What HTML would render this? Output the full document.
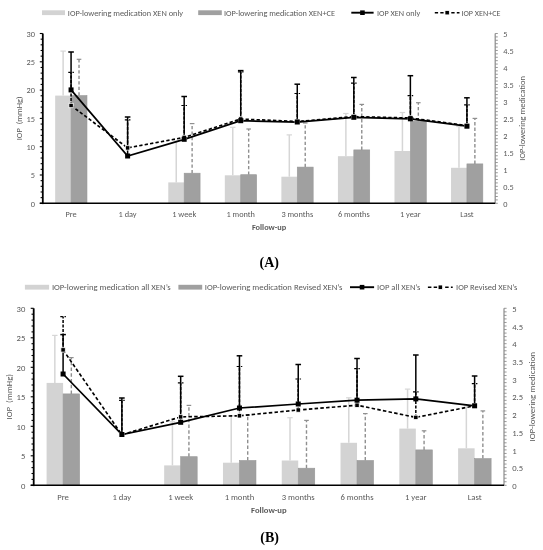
<!DOCTYPE html>
<html><head><meta charset="utf-8"><title>IOP follow-up charts</title>
<style>html,body{margin:0;padding:0;background:#fff;}svg{display:block;}</style></head>
<body><svg width="543" height="550" viewBox="0 0 543 550" font-family="Carlito, 'Liberation Sans', sans-serif">
<rect width="543" height="550" fill="#fff"/>
<line x1="63.12" y1="95.6" x2="63.12" y2="51.1" stroke="#d6d6d6" stroke-width="1.5"/>
<line x1="60.42" y1="51.1" x2="65.82" y2="51.1" stroke="#d6d6d6" stroke-width="1.2"/>
<line x1="79.02" y1="95.6" x2="79.02" y2="59.3" stroke="#8f8f8f" stroke-width="1.4" stroke-dasharray="3.3 2.2"/>
<line x1="76.72" y1="59.3" x2="81.32" y2="59.3" stroke="#8f8f8f" stroke-width="1.2"/>
<rect x="55.17" y="95.6" width="15.9" height="107.7" fill="#d3d3d3"/>
<rect x="71.07" y="95.6" width="15.9" height="107.7" fill="#a0a0a0" stroke="#979797" stroke-width="0.6"/>
<line x1="176.23" y1="182.4" x2="176.23" y2="141" stroke="#d6d6d6" stroke-width="1.5"/>
<line x1="173.53" y1="141" x2="178.93" y2="141" stroke="#d6d6d6" stroke-width="1.2"/>
<line x1="192.12" y1="173.2" x2="192.12" y2="123.6" stroke="#8f8f8f" stroke-width="1.4" stroke-dasharray="3.3 2.2"/>
<line x1="189.82" y1="123.6" x2="194.43" y2="123.6" stroke="#8f8f8f" stroke-width="1.2"/>
<rect x="168.28" y="182.4" width="15.9" height="20.9" fill="#d3d3d3"/>
<rect x="184.18" y="173.2" width="15.9" height="30.1" fill="#a0a0a0" stroke="#979797" stroke-width="0.6"/>
<line x1="232.77" y1="175.3" x2="232.77" y2="127.3" stroke="#d6d6d6" stroke-width="1.5"/>
<line x1="230.07" y1="127.3" x2="235.47" y2="127.3" stroke="#d6d6d6" stroke-width="1.2"/>
<line x1="248.67" y1="174.7" x2="248.67" y2="129" stroke="#8f8f8f" stroke-width="1.4" stroke-dasharray="3.3 2.2"/>
<line x1="246.37" y1="129" x2="250.97" y2="129" stroke="#8f8f8f" stroke-width="1.2"/>
<rect x="224.82" y="175.3" width="15.9" height="28" fill="#d3d3d3"/>
<rect x="240.72" y="174.7" width="15.9" height="28.6" fill="#a0a0a0" stroke="#979797" stroke-width="0.6"/>
<line x1="289.32" y1="176.7" x2="289.32" y2="134.9" stroke="#d6d6d6" stroke-width="1.5"/>
<line x1="286.62" y1="134.9" x2="292.02" y2="134.9" stroke="#d6d6d6" stroke-width="1.2"/>
<line x1="305.22" y1="167.1" x2="305.22" y2="123" stroke="#8f8f8f" stroke-width="1.4" stroke-dasharray="3.3 2.2"/>
<line x1="302.92" y1="123" x2="307.52" y2="123" stroke="#8f8f8f" stroke-width="1.2"/>
<rect x="281.38" y="176.7" width="15.9" height="26.6" fill="#d3d3d3"/>
<rect x="297.27" y="167.1" width="15.9" height="36.2" fill="#a0a0a0" stroke="#979797" stroke-width="0.6"/>
<line x1="345.88" y1="156.2" x2="345.88" y2="113.5" stroke="#d6d6d6" stroke-width="1.5"/>
<line x1="343.18" y1="113.5" x2="348.57" y2="113.5" stroke="#d6d6d6" stroke-width="1.2"/>
<line x1="361.77" y1="149.9" x2="361.77" y2="104.4" stroke="#8f8f8f" stroke-width="1.4" stroke-dasharray="3.3 2.2"/>
<line x1="359.47" y1="104.4" x2="364.07" y2="104.4" stroke="#8f8f8f" stroke-width="1.2"/>
<rect x="337.93" y="156.2" width="15.9" height="47.1" fill="#d3d3d3"/>
<rect x="353.82" y="149.9" width="15.9" height="53.4" fill="#a0a0a0" stroke="#979797" stroke-width="0.6"/>
<line x1="402.43" y1="151" x2="402.43" y2="112.5" stroke="#d6d6d6" stroke-width="1.5"/>
<line x1="399.73" y1="112.5" x2="405.12" y2="112.5" stroke="#d6d6d6" stroke-width="1.2"/>
<line x1="418.32" y1="121.2" x2="418.32" y2="102.7" stroke="#8f8f8f" stroke-width="1.4" stroke-dasharray="3.3 2.2"/>
<line x1="416.02" y1="102.7" x2="420.62" y2="102.7" stroke="#8f8f8f" stroke-width="1.2"/>
<rect x="394.48" y="151" width="15.9" height="52.3" fill="#d3d3d3"/>
<rect x="410.38" y="121.2" width="15.9" height="82.1" fill="#a0a0a0" stroke="#979797" stroke-width="0.6"/>
<line x1="458.98" y1="167.8" x2="458.98" y2="126.5" stroke="#d6d6d6" stroke-width="1.5"/>
<line x1="456.28" y1="126.5" x2="461.68" y2="126.5" stroke="#d6d6d6" stroke-width="1.2"/>
<line x1="474.88" y1="163.9" x2="474.88" y2="118.4" stroke="#8f8f8f" stroke-width="1.4" stroke-dasharray="3.3 2.2"/>
<line x1="472.57" y1="118.4" x2="477.18" y2="118.4" stroke="#8f8f8f" stroke-width="1.2"/>
<rect x="451.03" y="167.8" width="15.9" height="35.5" fill="#d3d3d3"/>
<rect x="466.93" y="163.9" width="15.9" height="39.4" fill="#a0a0a0" stroke="#979797" stroke-width="0.6"/>
<line x1="42.8" y1="33.5" x2="42.8" y2="204.1" stroke="#000" stroke-width="1.8"/>
<line x1="39.8" y1="203.3" x2="42.8" y2="203.3" stroke="#000" stroke-width="1.1"/>
<line x1="40.6" y1="197.64" x2="42.8" y2="197.64" stroke="#000" stroke-width="1.1"/>
<line x1="40.6" y1="191.98" x2="42.8" y2="191.98" stroke="#000" stroke-width="1.1"/>
<line x1="40.6" y1="186.32" x2="42.8" y2="186.32" stroke="#000" stroke-width="1.1"/>
<line x1="40.6" y1="180.66" x2="42.8" y2="180.66" stroke="#000" stroke-width="1.1"/>
<line x1="39.8" y1="175" x2="42.8" y2="175" stroke="#000" stroke-width="1.1"/>
<line x1="40.6" y1="169.34" x2="42.8" y2="169.34" stroke="#000" stroke-width="1.1"/>
<line x1="40.6" y1="163.68" x2="42.8" y2="163.68" stroke="#000" stroke-width="1.1"/>
<line x1="40.6" y1="158.02" x2="42.8" y2="158.02" stroke="#000" stroke-width="1.1"/>
<line x1="40.6" y1="152.36" x2="42.8" y2="152.36" stroke="#000" stroke-width="1.1"/>
<line x1="39.8" y1="146.7" x2="42.8" y2="146.7" stroke="#000" stroke-width="1.1"/>
<line x1="40.6" y1="141.04" x2="42.8" y2="141.04" stroke="#000" stroke-width="1.1"/>
<line x1="40.6" y1="135.38" x2="42.8" y2="135.38" stroke="#000" stroke-width="1.1"/>
<line x1="40.6" y1="129.72" x2="42.8" y2="129.72" stroke="#000" stroke-width="1.1"/>
<line x1="40.6" y1="124.06" x2="42.8" y2="124.06" stroke="#000" stroke-width="1.1"/>
<line x1="39.8" y1="118.4" x2="42.8" y2="118.4" stroke="#000" stroke-width="1.1"/>
<line x1="40.6" y1="112.74" x2="42.8" y2="112.74" stroke="#000" stroke-width="1.1"/>
<line x1="40.6" y1="107.08" x2="42.8" y2="107.08" stroke="#000" stroke-width="1.1"/>
<line x1="40.6" y1="101.42" x2="42.8" y2="101.42" stroke="#000" stroke-width="1.1"/>
<line x1="40.6" y1="95.76" x2="42.8" y2="95.76" stroke="#000" stroke-width="1.1"/>
<line x1="39.8" y1="90.1" x2="42.8" y2="90.1" stroke="#000" stroke-width="1.1"/>
<line x1="40.6" y1="84.44" x2="42.8" y2="84.44" stroke="#000" stroke-width="1.1"/>
<line x1="40.6" y1="78.78" x2="42.8" y2="78.78" stroke="#000" stroke-width="1.1"/>
<line x1="40.6" y1="73.12" x2="42.8" y2="73.12" stroke="#000" stroke-width="1.1"/>
<line x1="40.6" y1="67.46" x2="42.8" y2="67.46" stroke="#000" stroke-width="1.1"/>
<line x1="39.8" y1="61.8" x2="42.8" y2="61.8" stroke="#000" stroke-width="1.1"/>
<line x1="40.6" y1="56.14" x2="42.8" y2="56.14" stroke="#000" stroke-width="1.1"/>
<line x1="40.6" y1="50.48" x2="42.8" y2="50.48" stroke="#000" stroke-width="1.1"/>
<line x1="40.6" y1="44.82" x2="42.8" y2="44.82" stroke="#000" stroke-width="1.1"/>
<line x1="40.6" y1="39.16" x2="42.8" y2="39.16" stroke="#000" stroke-width="1.1"/>
<line x1="39.8" y1="33.5" x2="42.8" y2="33.5" stroke="#000" stroke-width="1.1"/>
<line x1="495.2" y1="33.5" x2="495.2" y2="203.3" stroke="#8c8c8c" stroke-width="1.2"/>
<line x1="495.2" y1="203.3" x2="497.8" y2="203.3" stroke="#8c8c8c" stroke-width="0.9"/>
<line x1="495.2" y1="199.9" x2="497.8" y2="199.9" stroke="#8c8c8c" stroke-width="0.9"/>
<line x1="495.2" y1="196.51" x2="497.8" y2="196.51" stroke="#8c8c8c" stroke-width="0.9"/>
<line x1="495.2" y1="193.11" x2="497.8" y2="193.11" stroke="#8c8c8c" stroke-width="0.9"/>
<line x1="495.2" y1="189.72" x2="497.8" y2="189.72" stroke="#8c8c8c" stroke-width="0.9"/>
<line x1="495.2" y1="186.32" x2="497.8" y2="186.32" stroke="#8c8c8c" stroke-width="0.9"/>
<line x1="495.2" y1="182.92" x2="497.8" y2="182.92" stroke="#8c8c8c" stroke-width="0.9"/>
<line x1="495.2" y1="179.53" x2="497.8" y2="179.53" stroke="#8c8c8c" stroke-width="0.9"/>
<line x1="495.2" y1="176.13" x2="497.8" y2="176.13" stroke="#8c8c8c" stroke-width="0.9"/>
<line x1="495.2" y1="172.74" x2="497.8" y2="172.74" stroke="#8c8c8c" stroke-width="0.9"/>
<line x1="495.2" y1="169.34" x2="497.8" y2="169.34" stroke="#8c8c8c" stroke-width="0.9"/>
<line x1="495.2" y1="165.94" x2="497.8" y2="165.94" stroke="#8c8c8c" stroke-width="0.9"/>
<line x1="495.2" y1="162.55" x2="497.8" y2="162.55" stroke="#8c8c8c" stroke-width="0.9"/>
<line x1="495.2" y1="159.15" x2="497.8" y2="159.15" stroke="#8c8c8c" stroke-width="0.9"/>
<line x1="495.2" y1="155.76" x2="497.8" y2="155.76" stroke="#8c8c8c" stroke-width="0.9"/>
<line x1="495.2" y1="152.36" x2="497.8" y2="152.36" stroke="#8c8c8c" stroke-width="0.9"/>
<line x1="495.2" y1="148.96" x2="497.8" y2="148.96" stroke="#8c8c8c" stroke-width="0.9"/>
<line x1="495.2" y1="145.57" x2="497.8" y2="145.57" stroke="#8c8c8c" stroke-width="0.9"/>
<line x1="495.2" y1="142.17" x2="497.8" y2="142.17" stroke="#8c8c8c" stroke-width="0.9"/>
<line x1="495.2" y1="138.78" x2="497.8" y2="138.78" stroke="#8c8c8c" stroke-width="0.9"/>
<line x1="495.2" y1="135.38" x2="497.8" y2="135.38" stroke="#8c8c8c" stroke-width="0.9"/>
<line x1="495.2" y1="131.98" x2="497.8" y2="131.98" stroke="#8c8c8c" stroke-width="0.9"/>
<line x1="495.2" y1="128.59" x2="497.8" y2="128.59" stroke="#8c8c8c" stroke-width="0.9"/>
<line x1="495.2" y1="125.19" x2="497.8" y2="125.19" stroke="#8c8c8c" stroke-width="0.9"/>
<line x1="495.2" y1="121.8" x2="497.8" y2="121.8" stroke="#8c8c8c" stroke-width="0.9"/>
<line x1="495.2" y1="118.4" x2="497.8" y2="118.4" stroke="#8c8c8c" stroke-width="0.9"/>
<line x1="495.2" y1="115" x2="497.8" y2="115" stroke="#8c8c8c" stroke-width="0.9"/>
<line x1="495.2" y1="111.61" x2="497.8" y2="111.61" stroke="#8c8c8c" stroke-width="0.9"/>
<line x1="495.2" y1="108.21" x2="497.8" y2="108.21" stroke="#8c8c8c" stroke-width="0.9"/>
<line x1="495.2" y1="104.82" x2="497.8" y2="104.82" stroke="#8c8c8c" stroke-width="0.9"/>
<line x1="495.2" y1="101.42" x2="497.8" y2="101.42" stroke="#8c8c8c" stroke-width="0.9"/>
<line x1="495.2" y1="98.02" x2="497.8" y2="98.02" stroke="#8c8c8c" stroke-width="0.9"/>
<line x1="495.2" y1="94.63" x2="497.8" y2="94.63" stroke="#8c8c8c" stroke-width="0.9"/>
<line x1="495.2" y1="91.23" x2="497.8" y2="91.23" stroke="#8c8c8c" stroke-width="0.9"/>
<line x1="495.2" y1="87.84" x2="497.8" y2="87.84" stroke="#8c8c8c" stroke-width="0.9"/>
<line x1="495.2" y1="84.44" x2="497.8" y2="84.44" stroke="#8c8c8c" stroke-width="0.9"/>
<line x1="495.2" y1="81.04" x2="497.8" y2="81.04" stroke="#8c8c8c" stroke-width="0.9"/>
<line x1="495.2" y1="77.65" x2="497.8" y2="77.65" stroke="#8c8c8c" stroke-width="0.9"/>
<line x1="495.2" y1="74.25" x2="497.8" y2="74.25" stroke="#8c8c8c" stroke-width="0.9"/>
<line x1="495.2" y1="70.86" x2="497.8" y2="70.86" stroke="#8c8c8c" stroke-width="0.9"/>
<line x1="495.2" y1="67.46" x2="497.8" y2="67.46" stroke="#8c8c8c" stroke-width="0.9"/>
<line x1="495.2" y1="64.06" x2="497.8" y2="64.06" stroke="#8c8c8c" stroke-width="0.9"/>
<line x1="495.2" y1="60.67" x2="497.8" y2="60.67" stroke="#8c8c8c" stroke-width="0.9"/>
<line x1="495.2" y1="57.27" x2="497.8" y2="57.27" stroke="#8c8c8c" stroke-width="0.9"/>
<line x1="495.2" y1="53.88" x2="497.8" y2="53.88" stroke="#8c8c8c" stroke-width="0.9"/>
<line x1="495.2" y1="50.48" x2="497.8" y2="50.48" stroke="#8c8c8c" stroke-width="0.9"/>
<line x1="495.2" y1="47.08" x2="497.8" y2="47.08" stroke="#8c8c8c" stroke-width="0.9"/>
<line x1="495.2" y1="43.69" x2="497.8" y2="43.69" stroke="#8c8c8c" stroke-width="0.9"/>
<line x1="495.2" y1="40.29" x2="497.8" y2="40.29" stroke="#8c8c8c" stroke-width="0.9"/>
<line x1="495.2" y1="36.9" x2="497.8" y2="36.9" stroke="#8c8c8c" stroke-width="0.9"/>
<line x1="495.2" y1="33.5" x2="497.8" y2="33.5" stroke="#8c8c8c" stroke-width="0.9"/>
<line x1="39.8" y1="203.3" x2="495.2" y2="203.3" stroke="#000" stroke-width="1.6"/>
<line x1="71.07" y1="105.5" x2="71.07" y2="72.4" stroke="#000" stroke-width="1.5" stroke-dasharray="3 1.5"/>
<line x1="68.27" y1="72.4" x2="73.87" y2="72.4" stroke="#000" stroke-width="1.2" stroke-dasharray="2.6 1.6"/>
<line x1="127.62" y1="147.9" x2="127.62" y2="119.9" stroke="#000" stroke-width="1.5" stroke-dasharray="3 1.5"/>
<line x1="124.82" y1="119.9" x2="130.42" y2="119.9" stroke="#000" stroke-width="1.2" stroke-dasharray="2.6 1.6"/>
<line x1="184.18" y1="137.4" x2="184.18" y2="105.5" stroke="#000" stroke-width="1.5" stroke-dasharray="3 1.5"/>
<line x1="181.38" y1="105.5" x2="186.98" y2="105.5" stroke="#000" stroke-width="1.2" stroke-dasharray="2.6 1.6"/>
<line x1="240.72" y1="119" x2="240.72" y2="71.9" stroke="#000" stroke-width="1.5" stroke-dasharray="3 1.5"/>
<line x1="237.92" y1="71.9" x2="243.52" y2="71.9" stroke="#000" stroke-width="1.2" stroke-dasharray="2.6 1.6"/>
<line x1="297.27" y1="121.5" x2="297.27" y2="93.5" stroke="#000" stroke-width="1.5" stroke-dasharray="3 1.5"/>
<line x1="294.47" y1="93.5" x2="300.07" y2="93.5" stroke="#000" stroke-width="1.2" stroke-dasharray="2.6 1.6"/>
<line x1="353.82" y1="116.6" x2="353.82" y2="83.1" stroke="#000" stroke-width="1.5" stroke-dasharray="3 1.5"/>
<line x1="351.02" y1="83.1" x2="356.62" y2="83.1" stroke="#000" stroke-width="1.2" stroke-dasharray="2.6 1.6"/>
<line x1="410.38" y1="118" x2="410.38" y2="95.7" stroke="#000" stroke-width="1.5" stroke-dasharray="3 1.5"/>
<line x1="407.57" y1="95.7" x2="413.18" y2="95.7" stroke="#000" stroke-width="1.2" stroke-dasharray="2.6 1.6"/>
<line x1="466.93" y1="125.6" x2="466.93" y2="104.8" stroke="#000" stroke-width="1.5" stroke-dasharray="3 1.5"/>
<line x1="464.12" y1="104.8" x2="469.73" y2="104.8" stroke="#000" stroke-width="1.2" stroke-dasharray="2.6 1.6"/>
<line x1="71.07" y1="89.9" x2="71.07" y2="52" stroke="#000" stroke-width="1.5"/>
<line x1="68.27" y1="52" x2="73.87" y2="52" stroke="#000" stroke-width="1.5"/>
<line x1="127.62" y1="156" x2="127.62" y2="117" stroke="#000" stroke-width="1.5"/>
<line x1="124.82" y1="117" x2="130.42" y2="117" stroke="#000" stroke-width="1.5"/>
<line x1="184.18" y1="139.3" x2="184.18" y2="96.5" stroke="#000" stroke-width="1.5"/>
<line x1="181.38" y1="96.5" x2="186.98" y2="96.5" stroke="#000" stroke-width="1.5"/>
<line x1="240.72" y1="120.7" x2="240.72" y2="70.6" stroke="#000" stroke-width="1.5"/>
<line x1="237.92" y1="70.6" x2="243.52" y2="70.6" stroke="#000" stroke-width="1.5"/>
<line x1="297.27" y1="122" x2="297.27" y2="84.2" stroke="#000" stroke-width="1.5"/>
<line x1="294.47" y1="84.2" x2="300.07" y2="84.2" stroke="#000" stroke-width="1.5"/>
<line x1="353.82" y1="117.3" x2="353.82" y2="77.5" stroke="#000" stroke-width="1.5"/>
<line x1="351.02" y1="77.5" x2="356.62" y2="77.5" stroke="#000" stroke-width="1.5"/>
<line x1="410.38" y1="118.8" x2="410.38" y2="75.7" stroke="#000" stroke-width="1.5"/>
<line x1="407.57" y1="75.7" x2="413.18" y2="75.7" stroke="#000" stroke-width="1.5"/>
<line x1="466.93" y1="126.2" x2="466.93" y2="97.8" stroke="#000" stroke-width="1.5"/>
<line x1="464.12" y1="97.8" x2="469.73" y2="97.8" stroke="#000" stroke-width="1.5"/>
<polyline fill="none" stroke="#000" stroke-width="1.65" stroke-dasharray="3.3 2.2" points="71.07,105.5 127.62,147.9 184.18,137.4 240.72,119 297.27,121.5 353.82,116.6 410.38,118 466.93,125.6"/>
<polyline fill="none" stroke="#000" stroke-width="1.75" points="71.07,89.9 127.62,156 184.18,139.3 240.72,120.7 297.27,122 353.82,117.3 410.38,118.8 466.93,126.2"/>
<rect x="68.87" y="103.3" width="4.4" height="4.4" fill="#000" stroke="#fff" stroke-width="0.8"/>
<rect x="125.42" y="145.7" width="4.4" height="4.4" fill="#000" stroke="#fff" stroke-width="0.8"/>
<rect x="181.98" y="135.2" width="4.4" height="4.4" fill="#000" stroke="#fff" stroke-width="0.8"/>
<rect x="238.52" y="116.8" width="4.4" height="4.4" fill="#000" stroke="#fff" stroke-width="0.8"/>
<rect x="295.07" y="119.3" width="4.4" height="4.4" fill="#000" stroke="#fff" stroke-width="0.8"/>
<rect x="351.62" y="114.4" width="4.4" height="4.4" fill="#000" stroke="#fff" stroke-width="0.8"/>
<rect x="408.18" y="115.8" width="4.4" height="4.4" fill="#000" stroke="#fff" stroke-width="0.8"/>
<rect x="464.73" y="123.4" width="4.4" height="4.4" fill="#000" stroke="#fff" stroke-width="0.8"/>
<rect x="68.57" y="87.4" width="5" height="5" fill="#000"/>
<rect x="125.12" y="153.5" width="5" height="5" fill="#000"/>
<rect x="181.68" y="136.8" width="5" height="5" fill="#000"/>
<rect x="238.22" y="118.2" width="5" height="5" fill="#000"/>
<rect x="294.77" y="119.5" width="5" height="5" fill="#000"/>
<rect x="351.32" y="114.8" width="5" height="5" fill="#000"/>
<rect x="407.88" y="116.3" width="5" height="5" fill="#000"/>
<rect x="464.43" y="123.7" width="5" height="5" fill="#000"/>
<text x="35" y="206.64" text-anchor="end" font-size="8.3" fill="#595959" textLength="4.22" lengthAdjust="spacingAndGlyphs">0</text>
<text x="35" y="178.34" text-anchor="end" font-size="8.3" fill="#595959" textLength="4.22" lengthAdjust="spacingAndGlyphs">5</text>
<text x="35" y="150.04" text-anchor="end" font-size="8.3" fill="#595959" textLength="8.42" lengthAdjust="spacingAndGlyphs">10</text>
<text x="35" y="121.74" text-anchor="end" font-size="8.3" fill="#595959" textLength="8.42" lengthAdjust="spacingAndGlyphs">15</text>
<text x="35" y="93.44" text-anchor="end" font-size="8.3" fill="#595959" textLength="8.42" lengthAdjust="spacingAndGlyphs">20</text>
<text x="35" y="65.14" text-anchor="end" font-size="8.3" fill="#595959" textLength="8.42" lengthAdjust="spacingAndGlyphs">25</text>
<text x="35" y="36.84" text-anchor="end" font-size="8.3" fill="#595959" textLength="8.42" lengthAdjust="spacingAndGlyphs">30</text>
<text x="503.3" y="206.84" font-size="8.3" fill="#595959" textLength="4.22" lengthAdjust="spacingAndGlyphs">0</text>
<text x="503.3" y="189.86" font-size="8.3" fill="#595959" textLength="10.52" lengthAdjust="spacingAndGlyphs">0.5</text>
<text x="503.3" y="172.88" font-size="8.3" fill="#595959" textLength="4.22" lengthAdjust="spacingAndGlyphs">1</text>
<text x="503.3" y="155.9" font-size="8.3" fill="#595959" textLength="10.52" lengthAdjust="spacingAndGlyphs">1.5</text>
<text x="503.3" y="138.92" font-size="8.3" fill="#595959" textLength="4.22" lengthAdjust="spacingAndGlyphs">2</text>
<text x="503.3" y="121.94" font-size="8.3" fill="#595959" textLength="10.52" lengthAdjust="spacingAndGlyphs">2.5</text>
<text x="503.3" y="104.96" font-size="8.3" fill="#595959" textLength="4.22" lengthAdjust="spacingAndGlyphs">3</text>
<text x="503.3" y="87.98" font-size="8.3" fill="#595959" textLength="10.52" lengthAdjust="spacingAndGlyphs">3.5</text>
<text x="503.3" y="71" font-size="8.3" fill="#595959" textLength="4.22" lengthAdjust="spacingAndGlyphs">4</text>
<text x="503.3" y="54.02" font-size="8.3" fill="#595959" textLength="10.52" lengthAdjust="spacingAndGlyphs">4.5</text>
<text x="503.3" y="37.04" font-size="8.3" fill="#595959" textLength="4.22" lengthAdjust="spacingAndGlyphs">5</text>
<text x="71.07" y="217" text-anchor="middle" font-size="8.3" fill="#595959" textLength="11.20" lengthAdjust="spacingAndGlyphs">Pre</text>
<text x="127.62" y="217" text-anchor="middle" font-size="8.3" fill="#595959" textLength="18.03" lengthAdjust="spacingAndGlyphs">1 day</text>
<text x="184.18" y="217" text-anchor="middle" font-size="8.3" fill="#595959" textLength="23.97" lengthAdjust="spacingAndGlyphs">1 week</text>
<text x="240.72" y="217" text-anchor="middle" font-size="8.3" fill="#595959" textLength="28.52" lengthAdjust="spacingAndGlyphs">1 month</text>
<text x="297.27" y="217" text-anchor="middle" font-size="8.3" fill="#595959" textLength="31.75" lengthAdjust="spacingAndGlyphs">3 months</text>
<text x="353.82" y="217" text-anchor="middle" font-size="8.3" fill="#595959" textLength="31.75" lengthAdjust="spacingAndGlyphs">6 months</text>
<text x="410.38" y="217" text-anchor="middle" font-size="8.3" fill="#595959" textLength="20.73" lengthAdjust="spacingAndGlyphs">1 year</text>
<text x="466.93" y="217" text-anchor="middle" font-size="8.3" fill="#595959" textLength="13.41" lengthAdjust="spacingAndGlyphs">Last</text>
<text x="269" y="229.8" text-anchor="middle" font-size="8.3" font-weight="bold" fill="#595959" textLength="34.20" lengthAdjust="spacingAndGlyphs">Follow-up</text>
<text transform="translate(22.2,118.4) rotate(-90)" text-anchor="middle" font-size="8.3" fill="#595959" xml:space="preserve" style="white-space:pre" textLength="43.8" lengthAdjust="spacingAndGlyphs">IOP  (mmHg)</text>
<text transform="translate(524.8,118.4) rotate(-90)" text-anchor="middle" font-size="8.3" fill="#595959" textLength="84.5" lengthAdjust="spacingAndGlyphs">IOP-lowering medication</text>
<rect x="42" y="10.3" width="23" height="4.8" fill="#d3d3d3"/>
<rect x="198.2" y="10.3" width="23.6" height="4.8" fill="#a0a0a0"/>
<line x1="351.3" y1="12.7" x2="373.6" y2="12.7" stroke="#000" stroke-width="1.9"/>
<rect x="360.15" y="10.4" width="4.6" height="4.6" fill="#000"/>
<line x1="434.8" y1="12.7" x2="459.5" y2="12.7" stroke="#000" stroke-width="1.65" stroke-dasharray="3.3 2.2"/>
<rect x="444.95" y="10.5" width="4.4" height="4.4" fill="#000" stroke="#fff" stroke-width="0.8"/>
<text x="67.8" y="16.24" font-size="8.3" fill="#595959" textLength="115.3" lengthAdjust="spacingAndGlyphs">IOP-lowering medication XEN only</text>
<text x="224" y="16.24" font-size="8.3" fill="#595959" textLength="111" lengthAdjust="spacingAndGlyphs">IOP-lowering medication XEN+CE</text>
<text x="376.9" y="16.24" font-size="8.3" fill="#595959" textLength="43.4" lengthAdjust="spacingAndGlyphs">IOP XEN only</text>
<text x="461.4" y="16.24" font-size="8.3" fill="#595959" textLength="39.1" lengthAdjust="spacingAndGlyphs">IOP XEN+CE</text>
<line x1="54.84" y1="382.9" x2="54.84" y2="335.4" stroke="#d6d6d6" stroke-width="1.5"/>
<line x1="52.14" y1="335.4" x2="57.54" y2="335.4" stroke="#d6d6d6" stroke-width="1.2"/>
<line x1="71.34" y1="393.9" x2="71.34" y2="357.6" stroke="#8f8f8f" stroke-width="1.4" stroke-dasharray="3.5 2.25"/>
<line x1="69.04" y1="357.6" x2="73.64" y2="357.6" stroke="#8f8f8f" stroke-width="1.2"/>
<rect x="46.59" y="382.9" width="16.5" height="102.4" fill="#d3d3d3"/>
<rect x="63.09" y="393.9" width="16.5" height="91.4" fill="#a0a0a0" stroke="#979797" stroke-width="0.6"/>
<line x1="172.42" y1="465.4" x2="172.42" y2="421.8" stroke="#d6d6d6" stroke-width="1.5"/>
<line x1="169.72" y1="421.8" x2="175.12" y2="421.8" stroke="#d6d6d6" stroke-width="1.2"/>
<line x1="188.92" y1="456.7" x2="188.92" y2="405.4" stroke="#8f8f8f" stroke-width="1.4" stroke-dasharray="3.5 2.25"/>
<line x1="186.62" y1="405.4" x2="191.22" y2="405.4" stroke="#8f8f8f" stroke-width="1.2"/>
<rect x="164.17" y="465.4" width="16.5" height="19.9" fill="#d3d3d3"/>
<rect x="180.67" y="456.7" width="16.5" height="28.6" fill="#a0a0a0" stroke="#979797" stroke-width="0.6"/>
<line x1="231.21" y1="462.7" x2="231.21" y2="415.8" stroke="#d6d6d6" stroke-width="1.5"/>
<line x1="228.51" y1="415.8" x2="233.91" y2="415.8" stroke="#d6d6d6" stroke-width="1.2"/>
<line x1="247.71" y1="460.5" x2="247.71" y2="415" stroke="#8f8f8f" stroke-width="1.4" stroke-dasharray="3.5 2.25"/>
<line x1="245.41" y1="415" x2="250.01" y2="415" stroke="#8f8f8f" stroke-width="1.2"/>
<rect x="222.96" y="462.7" width="16.5" height="22.6" fill="#d3d3d3"/>
<rect x="239.46" y="460.5" width="16.5" height="24.8" fill="#a0a0a0" stroke="#979797" stroke-width="0.6"/>
<line x1="289.99" y1="460.5" x2="289.99" y2="417.7" stroke="#d6d6d6" stroke-width="1.5"/>
<line x1="287.29" y1="417.7" x2="292.69" y2="417.7" stroke="#d6d6d6" stroke-width="1.2"/>
<line x1="306.49" y1="468.2" x2="306.49" y2="420.4" stroke="#8f8f8f" stroke-width="1.4" stroke-dasharray="3.5 2.25"/>
<line x1="304.19" y1="420.4" x2="308.79" y2="420.4" stroke="#8f8f8f" stroke-width="1.2"/>
<rect x="281.74" y="460.5" width="16.5" height="24.8" fill="#d3d3d3"/>
<rect x="298.24" y="468.2" width="16.5" height="17.1" fill="#a0a0a0" stroke="#979797" stroke-width="0.6"/>
<line x1="348.78" y1="442.8" x2="348.78" y2="397.8" stroke="#d6d6d6" stroke-width="1.5"/>
<line x1="346.08" y1="397.8" x2="351.48" y2="397.8" stroke="#d6d6d6" stroke-width="1.2"/>
<line x1="365.28" y1="460.5" x2="365.28" y2="413.6" stroke="#8f8f8f" stroke-width="1.4" stroke-dasharray="3.5 2.25"/>
<line x1="362.98" y1="413.6" x2="367.58" y2="413.6" stroke="#8f8f8f" stroke-width="1.2"/>
<rect x="340.53" y="442.8" width="16.5" height="42.5" fill="#d3d3d3"/>
<rect x="357.03" y="460.5" width="16.5" height="24.8" fill="#a0a0a0" stroke="#979797" stroke-width="0.6"/>
<line x1="407.57" y1="428.6" x2="407.57" y2="389.1" stroke="#d6d6d6" stroke-width="1.5"/>
<line x1="404.87" y1="389.1" x2="410.27" y2="389.1" stroke="#d6d6d6" stroke-width="1.2"/>
<line x1="424.07" y1="449.9" x2="424.07" y2="430.8" stroke="#8f8f8f" stroke-width="1.4" stroke-dasharray="3.5 2.25"/>
<line x1="421.77" y1="430.8" x2="426.37" y2="430.8" stroke="#8f8f8f" stroke-width="1.2"/>
<rect x="399.32" y="428.6" width="16.5" height="56.7" fill="#d3d3d3"/>
<rect x="415.82" y="449.9" width="16.5" height="35.4" fill="#a0a0a0" stroke="#979797" stroke-width="0.6"/>
<line x1="466.36" y1="448.3" x2="466.36" y2="405.4" stroke="#d6d6d6" stroke-width="1.5"/>
<line x1="463.66" y1="405.4" x2="469.06" y2="405.4" stroke="#d6d6d6" stroke-width="1.2"/>
<line x1="482.86" y1="458.6" x2="482.86" y2="410.9" stroke="#8f8f8f" stroke-width="1.4" stroke-dasharray="3.5 2.25"/>
<line x1="480.56" y1="410.9" x2="485.16" y2="410.9" stroke="#8f8f8f" stroke-width="1.2"/>
<rect x="458.11" y="448.3" width="16.5" height="37" fill="#d3d3d3"/>
<rect x="474.61" y="458.6" width="16.5" height="26.7" fill="#a0a0a0" stroke="#979797" stroke-width="0.6"/>
<line x1="33.7" y1="308.3" x2="33.7" y2="486.1" stroke="#000" stroke-width="1.8"/>
<line x1="30.7" y1="485.3" x2="33.7" y2="485.3" stroke="#000" stroke-width="1.1"/>
<line x1="31.5" y1="479.4" x2="33.7" y2="479.4" stroke="#000" stroke-width="1.1"/>
<line x1="31.5" y1="473.5" x2="33.7" y2="473.5" stroke="#000" stroke-width="1.1"/>
<line x1="31.5" y1="467.6" x2="33.7" y2="467.6" stroke="#000" stroke-width="1.1"/>
<line x1="31.5" y1="461.7" x2="33.7" y2="461.7" stroke="#000" stroke-width="1.1"/>
<line x1="30.7" y1="455.8" x2="33.7" y2="455.8" stroke="#000" stroke-width="1.1"/>
<line x1="31.5" y1="449.9" x2="33.7" y2="449.9" stroke="#000" stroke-width="1.1"/>
<line x1="31.5" y1="444" x2="33.7" y2="444" stroke="#000" stroke-width="1.1"/>
<line x1="31.5" y1="438.1" x2="33.7" y2="438.1" stroke="#000" stroke-width="1.1"/>
<line x1="31.5" y1="432.2" x2="33.7" y2="432.2" stroke="#000" stroke-width="1.1"/>
<line x1="30.7" y1="426.3" x2="33.7" y2="426.3" stroke="#000" stroke-width="1.1"/>
<line x1="31.5" y1="420.4" x2="33.7" y2="420.4" stroke="#000" stroke-width="1.1"/>
<line x1="31.5" y1="414.5" x2="33.7" y2="414.5" stroke="#000" stroke-width="1.1"/>
<line x1="31.5" y1="408.6" x2="33.7" y2="408.6" stroke="#000" stroke-width="1.1"/>
<line x1="31.5" y1="402.7" x2="33.7" y2="402.7" stroke="#000" stroke-width="1.1"/>
<line x1="30.7" y1="396.8" x2="33.7" y2="396.8" stroke="#000" stroke-width="1.1"/>
<line x1="31.5" y1="390.9" x2="33.7" y2="390.9" stroke="#000" stroke-width="1.1"/>
<line x1="31.5" y1="385" x2="33.7" y2="385" stroke="#000" stroke-width="1.1"/>
<line x1="31.5" y1="379.1" x2="33.7" y2="379.1" stroke="#000" stroke-width="1.1"/>
<line x1="31.5" y1="373.2" x2="33.7" y2="373.2" stroke="#000" stroke-width="1.1"/>
<line x1="30.7" y1="367.3" x2="33.7" y2="367.3" stroke="#000" stroke-width="1.1"/>
<line x1="31.5" y1="361.4" x2="33.7" y2="361.4" stroke="#000" stroke-width="1.1"/>
<line x1="31.5" y1="355.5" x2="33.7" y2="355.5" stroke="#000" stroke-width="1.1"/>
<line x1="31.5" y1="349.6" x2="33.7" y2="349.6" stroke="#000" stroke-width="1.1"/>
<line x1="31.5" y1="343.7" x2="33.7" y2="343.7" stroke="#000" stroke-width="1.1"/>
<line x1="30.7" y1="337.8" x2="33.7" y2="337.8" stroke="#000" stroke-width="1.1"/>
<line x1="31.5" y1="331.9" x2="33.7" y2="331.9" stroke="#000" stroke-width="1.1"/>
<line x1="31.5" y1="326" x2="33.7" y2="326" stroke="#000" stroke-width="1.1"/>
<line x1="31.5" y1="320.1" x2="33.7" y2="320.1" stroke="#000" stroke-width="1.1"/>
<line x1="31.5" y1="314.2" x2="33.7" y2="314.2" stroke="#000" stroke-width="1.1"/>
<line x1="30.7" y1="308.3" x2="33.7" y2="308.3" stroke="#000" stroke-width="1.1"/>
<line x1="504" y1="308.3" x2="504" y2="485.3" stroke="#8c8c8c" stroke-width="1.2"/>
<line x1="504" y1="485.3" x2="506.6" y2="485.3" stroke="#8c8c8c" stroke-width="0.9"/>
<line x1="504" y1="481.76" x2="506.6" y2="481.76" stroke="#8c8c8c" stroke-width="0.9"/>
<line x1="504" y1="478.22" x2="506.6" y2="478.22" stroke="#8c8c8c" stroke-width="0.9"/>
<line x1="504" y1="474.68" x2="506.6" y2="474.68" stroke="#8c8c8c" stroke-width="0.9"/>
<line x1="504" y1="471.14" x2="506.6" y2="471.14" stroke="#8c8c8c" stroke-width="0.9"/>
<line x1="504" y1="467.6" x2="506.6" y2="467.6" stroke="#8c8c8c" stroke-width="0.9"/>
<line x1="504" y1="464.06" x2="506.6" y2="464.06" stroke="#8c8c8c" stroke-width="0.9"/>
<line x1="504" y1="460.52" x2="506.6" y2="460.52" stroke="#8c8c8c" stroke-width="0.9"/>
<line x1="504" y1="456.98" x2="506.6" y2="456.98" stroke="#8c8c8c" stroke-width="0.9"/>
<line x1="504" y1="453.44" x2="506.6" y2="453.44" stroke="#8c8c8c" stroke-width="0.9"/>
<line x1="504" y1="449.9" x2="506.6" y2="449.9" stroke="#8c8c8c" stroke-width="0.9"/>
<line x1="504" y1="446.36" x2="506.6" y2="446.36" stroke="#8c8c8c" stroke-width="0.9"/>
<line x1="504" y1="442.82" x2="506.6" y2="442.82" stroke="#8c8c8c" stroke-width="0.9"/>
<line x1="504" y1="439.28" x2="506.6" y2="439.28" stroke="#8c8c8c" stroke-width="0.9"/>
<line x1="504" y1="435.74" x2="506.6" y2="435.74" stroke="#8c8c8c" stroke-width="0.9"/>
<line x1="504" y1="432.2" x2="506.6" y2="432.2" stroke="#8c8c8c" stroke-width="0.9"/>
<line x1="504" y1="428.66" x2="506.6" y2="428.66" stroke="#8c8c8c" stroke-width="0.9"/>
<line x1="504" y1="425.12" x2="506.6" y2="425.12" stroke="#8c8c8c" stroke-width="0.9"/>
<line x1="504" y1="421.58" x2="506.6" y2="421.58" stroke="#8c8c8c" stroke-width="0.9"/>
<line x1="504" y1="418.04" x2="506.6" y2="418.04" stroke="#8c8c8c" stroke-width="0.9"/>
<line x1="504" y1="414.5" x2="506.6" y2="414.5" stroke="#8c8c8c" stroke-width="0.9"/>
<line x1="504" y1="410.96" x2="506.6" y2="410.96" stroke="#8c8c8c" stroke-width="0.9"/>
<line x1="504" y1="407.42" x2="506.6" y2="407.42" stroke="#8c8c8c" stroke-width="0.9"/>
<line x1="504" y1="403.88" x2="506.6" y2="403.88" stroke="#8c8c8c" stroke-width="0.9"/>
<line x1="504" y1="400.34" x2="506.6" y2="400.34" stroke="#8c8c8c" stroke-width="0.9"/>
<line x1="504" y1="396.8" x2="506.6" y2="396.8" stroke="#8c8c8c" stroke-width="0.9"/>
<line x1="504" y1="393.26" x2="506.6" y2="393.26" stroke="#8c8c8c" stroke-width="0.9"/>
<line x1="504" y1="389.72" x2="506.6" y2="389.72" stroke="#8c8c8c" stroke-width="0.9"/>
<line x1="504" y1="386.18" x2="506.6" y2="386.18" stroke="#8c8c8c" stroke-width="0.9"/>
<line x1="504" y1="382.64" x2="506.6" y2="382.64" stroke="#8c8c8c" stroke-width="0.9"/>
<line x1="504" y1="379.1" x2="506.6" y2="379.1" stroke="#8c8c8c" stroke-width="0.9"/>
<line x1="504" y1="375.56" x2="506.6" y2="375.56" stroke="#8c8c8c" stroke-width="0.9"/>
<line x1="504" y1="372.02" x2="506.6" y2="372.02" stroke="#8c8c8c" stroke-width="0.9"/>
<line x1="504" y1="368.48" x2="506.6" y2="368.48" stroke="#8c8c8c" stroke-width="0.9"/>
<line x1="504" y1="364.94" x2="506.6" y2="364.94" stroke="#8c8c8c" stroke-width="0.9"/>
<line x1="504" y1="361.4" x2="506.6" y2="361.4" stroke="#8c8c8c" stroke-width="0.9"/>
<line x1="504" y1="357.86" x2="506.6" y2="357.86" stroke="#8c8c8c" stroke-width="0.9"/>
<line x1="504" y1="354.32" x2="506.6" y2="354.32" stroke="#8c8c8c" stroke-width="0.9"/>
<line x1="504" y1="350.78" x2="506.6" y2="350.78" stroke="#8c8c8c" stroke-width="0.9"/>
<line x1="504" y1="347.24" x2="506.6" y2="347.24" stroke="#8c8c8c" stroke-width="0.9"/>
<line x1="504" y1="343.7" x2="506.6" y2="343.7" stroke="#8c8c8c" stroke-width="0.9"/>
<line x1="504" y1="340.16" x2="506.6" y2="340.16" stroke="#8c8c8c" stroke-width="0.9"/>
<line x1="504" y1="336.62" x2="506.6" y2="336.62" stroke="#8c8c8c" stroke-width="0.9"/>
<line x1="504" y1="333.08" x2="506.6" y2="333.08" stroke="#8c8c8c" stroke-width="0.9"/>
<line x1="504" y1="329.54" x2="506.6" y2="329.54" stroke="#8c8c8c" stroke-width="0.9"/>
<line x1="504" y1="326" x2="506.6" y2="326" stroke="#8c8c8c" stroke-width="0.9"/>
<line x1="504" y1="322.46" x2="506.6" y2="322.46" stroke="#8c8c8c" stroke-width="0.9"/>
<line x1="504" y1="318.92" x2="506.6" y2="318.92" stroke="#8c8c8c" stroke-width="0.9"/>
<line x1="504" y1="315.38" x2="506.6" y2="315.38" stroke="#8c8c8c" stroke-width="0.9"/>
<line x1="504" y1="311.84" x2="506.6" y2="311.84" stroke="#8c8c8c" stroke-width="0.9"/>
<line x1="504" y1="308.3" x2="506.6" y2="308.3" stroke="#8c8c8c" stroke-width="0.9"/>
<line x1="30.7" y1="485.3" x2="504" y2="485.3" stroke="#000" stroke-width="1.6"/>
<line x1="63.09" y1="349.9" x2="63.09" y2="316.6" stroke="#000" stroke-width="1.5" stroke-dasharray="3 1.5"/>
<line x1="60.29" y1="316.6" x2="65.89" y2="316.6" stroke="#000" stroke-width="1.2" stroke-dasharray="2.6 1.6"/>
<line x1="121.88" y1="434.8" x2="121.88" y2="400.4" stroke="#000" stroke-width="1.5" stroke-dasharray="3 1.5"/>
<line x1="119.08" y1="400.4" x2="124.68" y2="400.4" stroke="#000" stroke-width="1.2" stroke-dasharray="2.6 1.6"/>
<line x1="180.67" y1="416.9" x2="180.67" y2="382.8" stroke="#000" stroke-width="1.5" stroke-dasharray="3 1.5"/>
<line x1="177.87" y1="382.8" x2="183.47" y2="382.8" stroke="#000" stroke-width="1.2" stroke-dasharray="2.6 1.6"/>
<line x1="239.46" y1="415.8" x2="239.46" y2="366.5" stroke="#000" stroke-width="1.5" stroke-dasharray="3 1.5"/>
<line x1="236.66" y1="366.5" x2="242.26" y2="366.5" stroke="#000" stroke-width="1.2" stroke-dasharray="2.6 1.6"/>
<line x1="298.24" y1="410" x2="298.24" y2="379" stroke="#000" stroke-width="1.5" stroke-dasharray="3 1.5"/>
<line x1="295.44" y1="379" x2="301.04" y2="379" stroke="#000" stroke-width="1.2" stroke-dasharray="2.6 1.6"/>
<line x1="357.03" y1="405.2" x2="357.03" y2="368.6" stroke="#000" stroke-width="1.5" stroke-dasharray="3 1.5"/>
<line x1="354.23" y1="368.6" x2="359.83" y2="368.6" stroke="#000" stroke-width="1.2" stroke-dasharray="2.6 1.6"/>
<line x1="415.82" y1="417.4" x2="415.82" y2="391.8" stroke="#000" stroke-width="1.5" stroke-dasharray="3 1.5"/>
<line x1="413.02" y1="391.8" x2="418.62" y2="391.8" stroke="#000" stroke-width="1.2" stroke-dasharray="2.6 1.6"/>
<line x1="474.61" y1="405.8" x2="474.61" y2="383.6" stroke="#000" stroke-width="1.5" stroke-dasharray="3 1.5"/>
<line x1="471.81" y1="383.6" x2="477.41" y2="383.6" stroke="#000" stroke-width="1.2" stroke-dasharray="2.6 1.6"/>
<line x1="63.09" y1="374" x2="63.09" y2="334.6" stroke="#000" stroke-width="1.5"/>
<line x1="60.29" y1="334.6" x2="65.89" y2="334.6" stroke="#000" stroke-width="1.5"/>
<line x1="121.88" y1="434.5" x2="121.88" y2="398" stroke="#000" stroke-width="1.5"/>
<line x1="119.08" y1="398" x2="124.68" y2="398" stroke="#000" stroke-width="1.5"/>
<line x1="180.67" y1="422.3" x2="180.67" y2="376.3" stroke="#000" stroke-width="1.5"/>
<line x1="177.87" y1="376.3" x2="183.47" y2="376.3" stroke="#000" stroke-width="1.5"/>
<line x1="239.46" y1="408" x2="239.46" y2="355.8" stroke="#000" stroke-width="1.5"/>
<line x1="236.66" y1="355.8" x2="242.26" y2="355.8" stroke="#000" stroke-width="1.5"/>
<line x1="298.24" y1="404" x2="298.24" y2="364.5" stroke="#000" stroke-width="1.5"/>
<line x1="295.44" y1="364.5" x2="301.04" y2="364.5" stroke="#000" stroke-width="1.5"/>
<line x1="357.03" y1="400.2" x2="357.03" y2="358.5" stroke="#000" stroke-width="1.5"/>
<line x1="354.23" y1="358.5" x2="359.83" y2="358.5" stroke="#000" stroke-width="1.5"/>
<line x1="415.82" y1="398.9" x2="415.82" y2="355" stroke="#000" stroke-width="1.5"/>
<line x1="413.02" y1="355" x2="418.62" y2="355" stroke="#000" stroke-width="1.5"/>
<line x1="474.61" y1="405.8" x2="474.61" y2="376" stroke="#000" stroke-width="1.5"/>
<line x1="471.81" y1="376" x2="477.41" y2="376" stroke="#000" stroke-width="1.5"/>
<polyline fill="none" stroke="#000" stroke-width="1.65" stroke-dasharray="3.5 2.25" points="63.09,349.9 121.88,434.8 180.67,416.9 239.46,415.8 298.24,410 357.03,405.2 415.82,417.4 474.61,405.8"/>
<polyline fill="none" stroke="#000" stroke-width="1.75" points="63.09,374 121.88,434.5 180.67,422.3 239.46,408 298.24,404 357.03,400.2 415.82,398.9 474.61,405.8"/>
<rect x="60.89" y="347.7" width="4.4" height="4.4" fill="#000" stroke="#fff" stroke-width="0.8"/>
<rect x="119.68" y="432.6" width="4.4" height="4.4" fill="#000" stroke="#fff" stroke-width="0.8"/>
<rect x="178.47" y="414.7" width="4.4" height="4.4" fill="#000" stroke="#fff" stroke-width="0.8"/>
<rect x="237.26" y="413.6" width="4.4" height="4.4" fill="#000" stroke="#fff" stroke-width="0.8"/>
<rect x="296.04" y="407.8" width="4.4" height="4.4" fill="#000" stroke="#fff" stroke-width="0.8"/>
<rect x="354.83" y="403" width="4.4" height="4.4" fill="#000" stroke="#fff" stroke-width="0.8"/>
<rect x="413.62" y="415.2" width="4.4" height="4.4" fill="#000" stroke="#fff" stroke-width="0.8"/>
<rect x="472.41" y="403.6" width="4.4" height="4.4" fill="#000" stroke="#fff" stroke-width="0.8"/>
<rect x="60.59" y="371.5" width="5" height="5" fill="#000"/>
<rect x="119.38" y="432" width="5" height="5" fill="#000"/>
<rect x="178.17" y="419.8" width="5" height="5" fill="#000"/>
<rect x="236.96" y="405.5" width="5" height="5" fill="#000"/>
<rect x="295.74" y="401.5" width="5" height="5" fill="#000"/>
<rect x="354.53" y="397.7" width="5" height="5" fill="#000"/>
<rect x="413.32" y="396.4" width="5" height="5" fill="#000"/>
<rect x="472.11" y="403.3" width="5" height="5" fill="#000"/>
<text x="25.3" y="488.75" text-anchor="end" font-size="8.65" fill="#595959" textLength="4.38" lengthAdjust="spacingAndGlyphs">0</text>
<text x="25.3" y="459.25" text-anchor="end" font-size="8.65" fill="#595959" textLength="4.38" lengthAdjust="spacingAndGlyphs">5</text>
<text x="25.3" y="429.75" text-anchor="end" font-size="8.65" fill="#595959" textLength="8.75" lengthAdjust="spacingAndGlyphs">10</text>
<text x="25.3" y="400.25" text-anchor="end" font-size="8.65" fill="#595959" textLength="8.75" lengthAdjust="spacingAndGlyphs">15</text>
<text x="25.3" y="370.75" text-anchor="end" font-size="8.65" fill="#595959" textLength="8.75" lengthAdjust="spacingAndGlyphs">20</text>
<text x="25.3" y="341.25" text-anchor="end" font-size="8.65" fill="#595959" textLength="8.75" lengthAdjust="spacingAndGlyphs">25</text>
<text x="25.3" y="311.75" text-anchor="end" font-size="8.65" fill="#595959" textLength="8.75" lengthAdjust="spacingAndGlyphs">30</text>
<text x="512.2" y="488.95" font-size="8.65" fill="#595959" textLength="4.38" lengthAdjust="spacingAndGlyphs">0</text>
<text x="512.2" y="471.25" font-size="8.65" fill="#595959" textLength="10.92" lengthAdjust="spacingAndGlyphs">0.5</text>
<text x="512.2" y="453.55" font-size="8.65" fill="#595959" textLength="4.38" lengthAdjust="spacingAndGlyphs">1</text>
<text x="512.2" y="435.85" font-size="8.65" fill="#595959" textLength="10.92" lengthAdjust="spacingAndGlyphs">1.5</text>
<text x="512.2" y="418.15" font-size="8.65" fill="#595959" textLength="4.38" lengthAdjust="spacingAndGlyphs">2</text>
<text x="512.2" y="400.45" font-size="8.65" fill="#595959" textLength="10.92" lengthAdjust="spacingAndGlyphs">2.5</text>
<text x="512.2" y="382.75" font-size="8.65" fill="#595959" textLength="4.38" lengthAdjust="spacingAndGlyphs">3</text>
<text x="512.2" y="365.05" font-size="8.65" fill="#595959" textLength="10.92" lengthAdjust="spacingAndGlyphs">3.5</text>
<text x="512.2" y="347.35" font-size="8.65" fill="#595959" textLength="4.38" lengthAdjust="spacingAndGlyphs">4</text>
<text x="512.2" y="329.65" font-size="8.65" fill="#595959" textLength="10.92" lengthAdjust="spacingAndGlyphs">4.5</text>
<text x="512.2" y="311.95" font-size="8.65" fill="#595959" textLength="4.38" lengthAdjust="spacingAndGlyphs">5</text>
<text x="63.09" y="500.3" text-anchor="middle" font-size="8.65" fill="#595959" textLength="11.64" lengthAdjust="spacingAndGlyphs">Pre</text>
<text x="121.88" y="500.3" text-anchor="middle" font-size="8.65" fill="#595959" textLength="18.73" lengthAdjust="spacingAndGlyphs">1 day</text>
<text x="180.67" y="500.3" text-anchor="middle" font-size="8.65" fill="#595959" textLength="24.92" lengthAdjust="spacingAndGlyphs">1 week</text>
<text x="239.46" y="500.3" text-anchor="middle" font-size="8.65" fill="#595959" textLength="29.64" lengthAdjust="spacingAndGlyphs">1 month</text>
<text x="298.24" y="500.3" text-anchor="middle" font-size="8.65" fill="#595959" textLength="33.02" lengthAdjust="spacingAndGlyphs">3 months</text>
<text x="357.03" y="500.3" text-anchor="middle" font-size="8.65" fill="#595959" textLength="33.02" lengthAdjust="spacingAndGlyphs">6 months</text>
<text x="415.82" y="500.3" text-anchor="middle" font-size="8.65" fill="#595959" textLength="21.56" lengthAdjust="spacingAndGlyphs">1 year</text>
<text x="474.61" y="500.3" text-anchor="middle" font-size="8.65" fill="#595959" textLength="13.94" lengthAdjust="spacingAndGlyphs">Last</text>
<text x="268.85" y="513.1" text-anchor="middle" font-size="8.65" font-weight="bold" fill="#595959" textLength="35.55" lengthAdjust="spacingAndGlyphs">Follow-up</text>
<text transform="translate(11.9,396.8) rotate(-90)" text-anchor="middle" font-size="8.65" fill="#595959" xml:space="preserve" style="white-space:pre" textLength="45.5" lengthAdjust="spacingAndGlyphs">IOP  (mmHg)</text>
<text transform="translate(535.2,396.8) rotate(-90)" text-anchor="middle" font-size="8.65" fill="#595959" textLength="89.6" lengthAdjust="spacingAndGlyphs">IOP-lowering medication</text>
<rect x="24.9" y="284.8" width="24.2" height="4.8" fill="#d3d3d3"/>
<rect x="178.4" y="284.8" width="23.8" height="4.8" fill="#a0a0a0"/>
<line x1="350" y1="287.2" x2="374.1" y2="287.2" stroke="#000" stroke-width="1.9"/>
<rect x="359.75" y="284.9" width="4.6" height="4.6" fill="#000"/>
<line x1="427.9" y1="287.2" x2="452.7" y2="287.2" stroke="#000" stroke-width="1.65" stroke-dasharray="3.5 2.25"/>
<rect x="438.1" y="285" width="4.4" height="4.4" fill="#000" stroke="#fff" stroke-width="0.8"/>
<text x="51.9" y="290.2" font-size="8.65" fill="#595959" textLength="118.9" lengthAdjust="spacingAndGlyphs">IOP-lowering medication all XEN’s</text>
<text x="204.8" y="290.2" font-size="8.65" fill="#595959" textLength="137.6" lengthAdjust="spacingAndGlyphs">IOP-lowering medication Revised XEN’s</text>
<text x="377.1" y="290.2" font-size="8.65" fill="#595959" textLength="43.4" lengthAdjust="spacingAndGlyphs">IOP all XEN’s</text>
<text x="456" y="290.2" font-size="8.65" fill="#595959" textLength="61.3" lengthAdjust="spacingAndGlyphs">IOP Revised XEN’s</text>
<text x="269.3" y="266.5" text-anchor="middle" font-family="'Liberation Serif', serif" font-size="14" font-weight="bold" fill="#000" textLength="19.44" lengthAdjust="spacingAndGlyphs">(A)</text>
<text x="269.6" y="542" text-anchor="middle" font-family="'Liberation Serif', serif" font-size="14" font-weight="bold" fill="#000" textLength="18.67" lengthAdjust="spacingAndGlyphs">(B)</text>
</svg></body></html>
